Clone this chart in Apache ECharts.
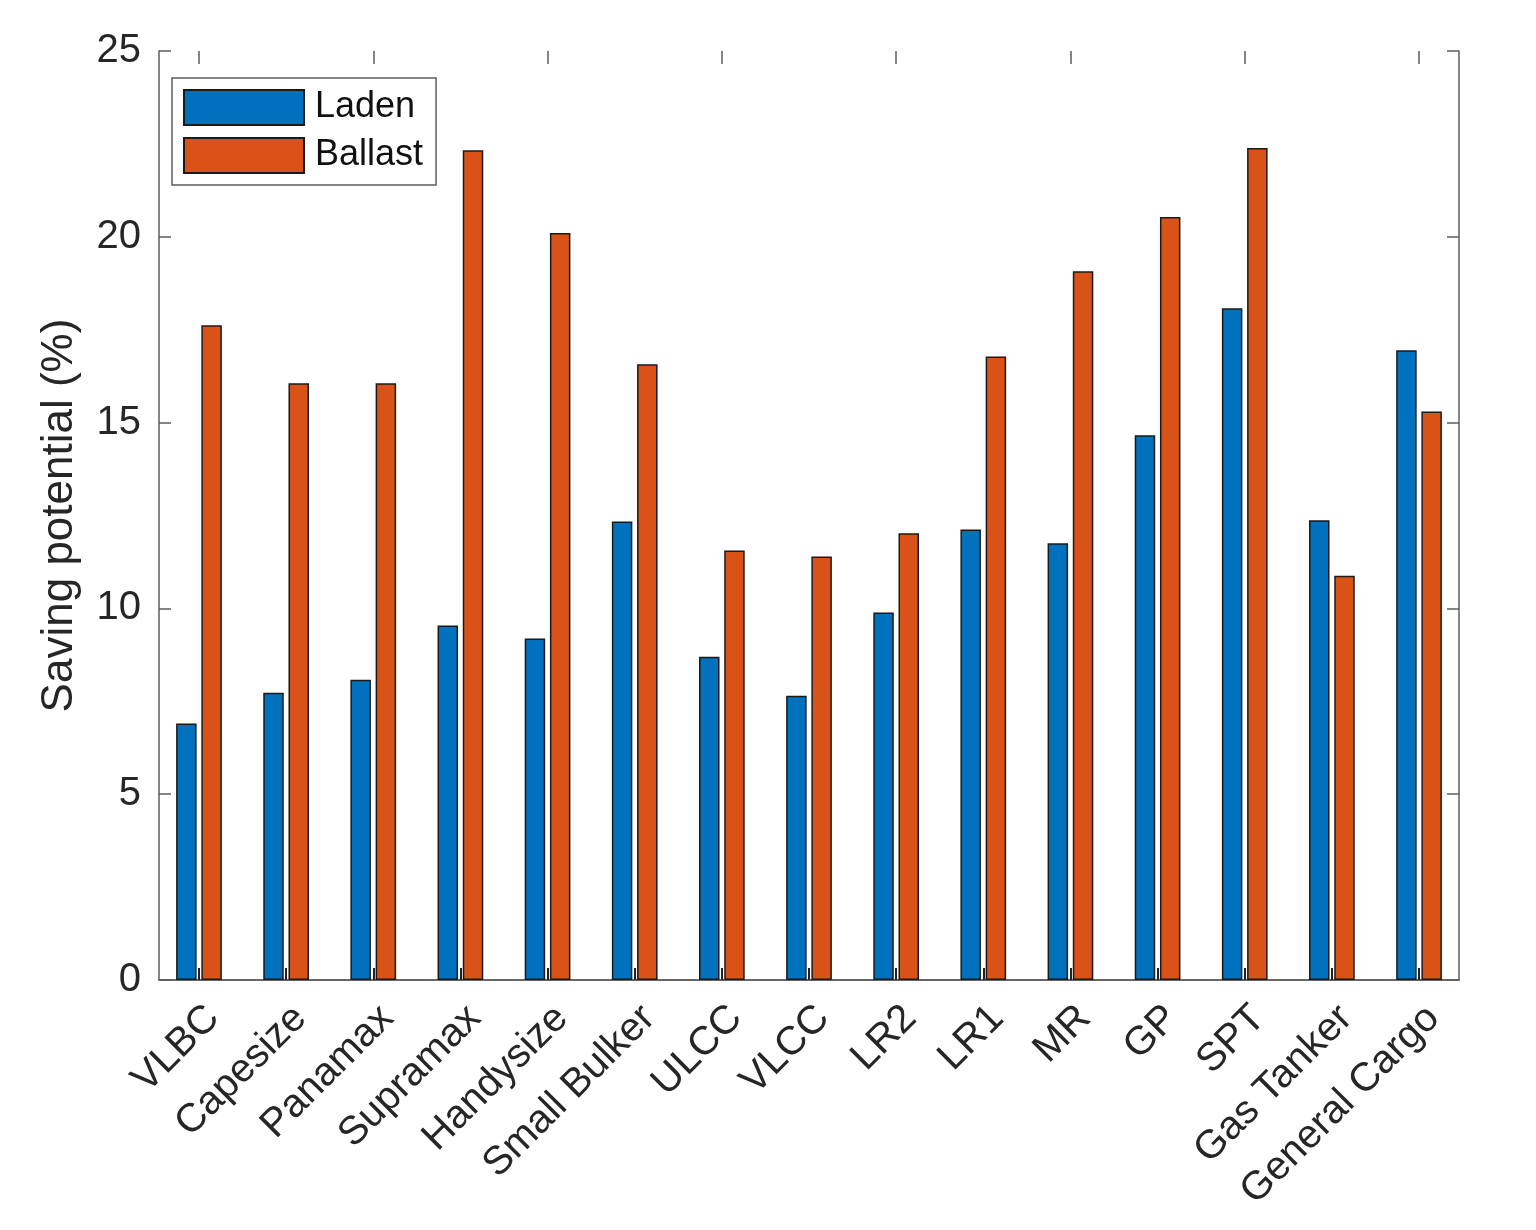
<!DOCTYPE html>
<html>
<head>
<meta charset="utf-8">
<script src="https://cdn.jsdelivr.net/npm/echarts@6/dist/echarts.min.js"></script>
<style>
html,body{margin:0;padding:0;background:#fff;}
#chart{width:1536px;height:1230px;}
</style>
</head>
<body>
<div id="chart"></div>
<script>
const categories = ['VLBC','Capesize','Panamax','Supramax','Handysize','Small Bulker','ULCC','VLCC','LR2','LR1','MR','GP','SPT','Gas Tanker','General Cargo'];
const laden   = [6.9, 7.73, 8.08, 9.54, 9.19, 12.34, 8.70, 7.65, 9.89, 12.12, 11.75, 14.66, 18.08, 12.37, 16.95];
const ballast = [17.62, 16.06, 16.06, 22.33, 20.1, 16.57, 11.56, 11.4, 12.02, 16.78, 19.07, 20.53, 22.39, 10.88, 15.3];
const yTicks = [0, 5, 10, 15, 20, 25];

const font = '"Liberation Sans", Arial, Helvetica, sans-serif';
const txt = '#262626';
const axc = '#5e5e5e';

const chart = echarts.init(document.getElementById('chart'), null, {renderer: 'canvas'});
chart.setOption({
  backgroundColor: '#fff',
  animation: false,
  textStyle: {fontFamily: font, color: txt},
  grid: [
    {left: 155.4, right: 73.4, top: 51, bottom: 250, containLabel: false},
    {left: 159, right: 77, top: 51, bottom: 250, containLabel: false}
  ],
  legend: {
    orient: 'vertical',
    left: 172, top: 78,
    icon: 'rect',
    itemWidth: 120, itemHeight: 35, itemGap: 11,
    padding: [11, 13, 11, 11],
    borderColor: axc, borderWidth: 1.5,
    textStyle: {fontSize: 36, color: '#111', fontFamily: font, padding: [0, 0, 0, 6]},
    data: ['Laden', 'Ballast']
  },
  xAxis: [{
    gridIndex: 0, type: 'category', data: categories, position: 'bottom',
    axisLine: {show: false},
    axisTick: {show: true, inside: true, alignWithLabel: true, length: 12, lineStyle: {color: '#222', width: 2}},
    axisLabel: {rotate: 45, fontSize: 40, color: txt, margin: 18, fontFamily: font, interval: 0,
      align: 'right', verticalAlign: 'top'},
    splitLine: {show: false}, z: 5
  }, {
    gridIndex: 0, type: 'category', data: categories, position: 'top',
    axisLine: {show: false},
    axisTick: {show: true, inside: true, alignWithLabel: true, length: 13, lineStyle: {color: axc, width: 1.5}},
    axisLabel: {show: false},
    splitLine: {show: false}
  }, {
    gridIndex: 1, type: 'category', data: categories, position: 'bottom',
    axisLine: {show: true, lineStyle: {color: axc, width: 1.5}},
    axisTick: {show: false}, axisLabel: {show: false}, splitLine: {show: false}
  }, {
    gridIndex: 1, type: 'category', data: categories, position: 'top',
    axisLine: {show: true, lineStyle: {color: axc, width: 1.5}},
    axisTick: {show: false}, axisLabel: {show: false}, splitLine: {show: false}
  }],
  yAxis: [{
    gridIndex: 0, type: 'value', min: 0, max: 25, interval: 5, show: false
  }, {
    gridIndex: 1, type: 'value', min: 0, max: 25, interval: 5, position: 'left',
    name: 'Saving potential (%)', nameLocation: 'middle', nameGap: 77,
    nameTextStyle: {fontSize: 44, color: txt, fontFamily: font},
    axisLine: {show: true, lineStyle: {color: axc, width: 1.5}},
    axisTick: {show: true, inside: true, length: 12, lineStyle: {color: axc, width: 1.5}},
    axisLabel: {fontSize: 40, color: txt, margin: 18, fontFamily: font,
      formatter: v => yTicks.includes(v) ? String(v) : ''},
    splitLine: {show: false}
  }, {
    gridIndex: 1, type: 'value', min: 0, max: 25, interval: 5, position: 'right',
    axisLine: {show: true, lineStyle: {color: axc, width: 1.5}},
    axisTick: {show: true, inside: true, length: 12, lineStyle: {color: axc, width: 1.5}},
    axisLabel: {show: false},
    splitLine: {show: false}
  }],
  series: [{
    name: 'Laden', type: 'bar', data: laden, xAxisIndex: 0, yAxisIndex: 0,
    barWidth: 20.5, barGap: '23%',
    itemStyle: {color: '#0072BD', borderColor: '#1a1a1a', borderWidth: 1.5}
  }, {
    name: 'Ballast', type: 'bar', data: ballast, xAxisIndex: 0, yAxisIndex: 0,
    barWidth: 20.5, barGap: '23%',
    itemStyle: {color: '#D95319', borderColor: '#1a1a1a', borderWidth: 1.5}
  }]
});
</script>
</body>
</html>
